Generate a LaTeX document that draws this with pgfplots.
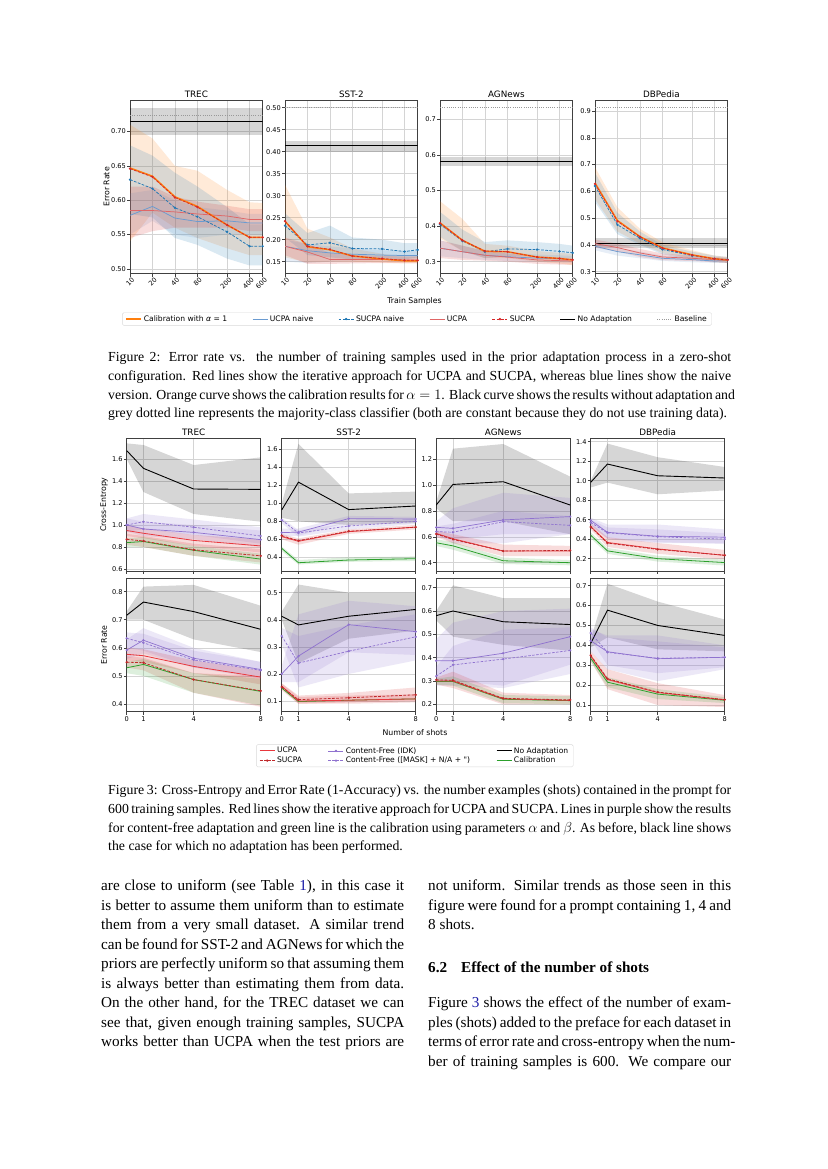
\documentclass[border=0pt]{standalone}
\usepackage{fontspec}
\setmainfont{Liberation Serif}
\newfontfamily\dejavu{DejaVu Sans}
\usepackage{xcolor}
\usepackage{pgfplots}
\pgfplotsset{compat=1.18}

\definecolor{cOrange}{HTML}{FF7F0E}
\definecolor{cBlue}{HTML}{1F77B4}
\definecolor{cLBlue}{HTML}{6A9BD1}
\definecolor{cRed}{HTML}{D62728}
\definecolor{cLRed}{HTML}{E06666}
\definecolor{cRed3}{HTML}{E8383D}
\definecolor{cDRed}{HTML}{C0282A}
\definecolor{cPurple}{HTML}{8F72CF}
\definecolor{cGreen}{HTML}{2CA02C}
\definecolor{linkblue}{HTML}{1A1AA6}

\newcommand\tickfont{\dejavu\fontsize{6.6}{7.5}\selectfont}
\newcommand\labfont{\dejavu\fontsize{7.8}{9}\selectfont}
\newcommand\titlefont{\dejavu\fontsize{8.8}{10}\selectfont}
\newcommand\legfont{\dejavu\fontsize{7.6}{8.6}\selectfont}
\newcommand\captfont{\fontsize{13.8}{17}\selectfont}
\newcommand\bodyfont{\fontsize{15.2}{19}\selectfont}

\pgfplotsset{
  every axis title/.style={at={(axis description cs:0.5,1)}, anchor=base, yshift=2.6pt, font=\titlefont},
  base/.style={scale only axis,
    axis line style={draw=black!75, line width=0.55pt},
    tick style={draw=black!75, line width=0.5pt},
    tick align=outside, tick pos=left, major tick length=2.8pt,
    grid=major, major grid style={draw=black!17, line width=0.45pt},
    tick label style={font=\tickfont},
    /pgf/number format/assume math mode=true,
    yticklabel style={inner sep=1.2pt, /pgf/number format/fixed, /pgf/number format/fixed zerofill},
    label style={font=\labfont},
    legend style={font=\legfont, draw=black!15, rounded corners=1.5pt, inner xsep=3pt, inner ysep=1.5pt,
      nodes={inner ysep=1.2pt}},
    legend cell align=left,
    legend image code/.code={\draw[mark repeat=2,mark phase=2,##1] plot coordinates {(0pt,0pt) (7.5pt,0pt) (15pt,0pt)};},
  },
  f2/.style={base, width=132.7pt, height=173.7pt, xmin=10, xmax=600,
    xtick={10,20,40,80,200,400,600}, xticklabels={10,20,40,80,200,400,600}, xminorticks=false,
    x tick label style={rotate=45, anchor=north east, inner sep=1pt, xshift=2pt}},
  f3/.style={base, width=134pt, xmin=0, xmax=8, xtick={0,1,4,8},
    yticklabel style={/pgf/number format/precision=1}},
  f3top/.style={f3, height=132.7pt, xticklabels={}},
  f3bot/.style={f3, height=133.4pt, xticklabels={0,1,4,8}, x tick label style={inner sep=2pt}},
  band/.style={draw=none, fill=#1, fill opacity=0.16, mark=none, forget plot},
  calibA/.style={color=cOrange, line width=1.5pt, mark=none},
  ucpan/.style={color=cLBlue, line width=0.75pt, mark=none},
  sucpan/.style={color=cBlue, line width=0.75pt, dash pattern=on 2.8pt off 1.4pt, mark=*, mark size=0.75pt, mark options={solid}},
  ucpaA/.style={color=cLRed, line width=0.75pt, mark=none},
  sucpaA/.style={color=cRed, line width=0.75pt, dash pattern=on 2.8pt off 1.4pt, mark=*, mark size=0.75pt, mark options={solid}},
  noad/.style={color=black, line width=0.9pt, mark=none},
  basel/.style={color=black!40, line width=0.5pt, dash pattern=on 1pt off 1.2pt, mark=none},
  ucpa3/.style={color=cRed3, line width=0.8pt, mark=none},
  sucpa3/.style={color=cDRed, line width=0.8pt, dash pattern=on 2.8pt off 1.4pt, mark=*, mark size=0.75pt, mark options={solid}},
  idk/.style={color=cPurple, line width=0.7pt, mark=*, mark size=0.75pt},
  mask/.style={color=cPurple, line width=0.7pt, dash pattern=on 2.5pt off 1.5pt, mark=*, mark size=0.75pt, mark options={solid}},
  calib3/.style={color=cGreen, line width=0.8pt, mark=none},
}

\begin{document}
\begin{tikzpicture}
\path[fill=white, use as bounding box] (0pt,0pt) rectangle (827pt,-1169pt);

% ================= FIGURE 2 =================
% ---- TREC
\begin{semilogxaxis}[f2, at={(130pt,-273.7pt)}, anchor=south west, ymin=0.493, ymax=0.746,
  ytick={0.50,0.55,0.60,0.65,0.70}, yticklabel style={/pgf/number format/precision=2},
  title={TREC}, ylabel={Error Rate}, ylabel style={at={(axis description cs:-0.176,0.5)}, anchor=center},
  legend columns=7, legend style={at={(axis description cs:2.163,-0.261)}, anchor=center,
  /tikz/every even column/.append style={column sep=23pt}}]
\addlegendimage{calibA}\addlegendentry{Calibration with {\itshape α} = 1}
\addlegendimage{ucpan}\addlegendentry{UCPA naive}
\addlegendimage{sucpan}\addlegendentry{SUCPA naive}
\addlegendimage{ucpaA}\addlegendentry{UCPA}
\addlegendimage{sucpaA}\addlegendentry{SUCPA}
\addlegendimage{noad}\addlegendentry{No Adaptation}
\addlegendimage{basel}\addlegendentry{Baseline}
\addplot[band=black] coordinates {(10,0.735)(600,0.735)(600,0.695)(10,0.695)};
\addplot[band=cOrange] coordinates {(10,0.710)(20,0.690)(40,0.650)(80,0.643)(200,0.615)(400,0.597)(600,0.596)(600,0.520)(400,0.520)(200,0.530)(80,0.545)(40,0.560)(20,0.582)(10,0.540)};
\addplot[band=cBlue] coordinates {(10,0.680)(20,0.665)(40,0.640)(80,0.620)(200,0.590)(400,0.565)(600,0.565)(600,0.505)(400,0.505)(200,0.515)(80,0.535)(40,0.545)(20,0.575)(10,0.580)};
\addplot[band=cLBlue] coordinates {(10,0.610)(20,0.615)(40,0.600)(80,0.590)(200,0.585)(400,0.580)(600,0.580)(600,0.550)(400,0.550)(200,0.550)(80,0.545)(40,0.550)(20,0.570)(10,0.550)};
\addplot[band=cRed] coordinates {(10,0.620)(20,0.620)(40,0.605)(80,0.598)(200,0.592)(400,0.587)(600,0.587)(600,0.555)(400,0.555)(200,0.560)(80,0.560)(40,0.560)(20,0.555)(10,0.545)};
\addplot[basel, forget plot] coordinates {(10,0.724)(600,0.724)};
\addplot[noad, forget plot] coordinates {(10,0.715)(600,0.715)};
\addplot[ucpan, forget plot] coordinates {(10,0.578)(20,0.591)(40,0.574)(80,0.569)(200,0.570)(400,0.567)(600,0.567)};
\addplot[ucpaA, forget plot] coordinates {(10,0.585)(20,0.585)(40,0.583)(80,0.580)(200,0.577)(400,0.572)(600,0.572)};
\addplot[sucpan, forget plot] coordinates {(10,0.630)(20,0.617)(40,0.589)(80,0.576)(200,0.554)(400,0.533)(600,0.533)};
\addplot[calibA, forget plot] coordinates {(10,0.647)(20,0.635)(40,0.605)(80,0.591)(200,0.564)(400,0.546)(600,0.546)};
\addplot[sucpaA, forget plot] coordinates {(10,0.646)(20,0.634)(40,0.604)(80,0.590)(200,0.564)(400,0.546)(600,0.546)};
\end{semilogxaxis}

% ---- SST-2
\begin{semilogxaxis}[f2, at={(285pt,-273.7pt)}, anchor=south west, ymin=0.1227, ymax=0.5174,
  ytick={0.15,0.20,0.25,0.30,0.35,0.40,0.45,0.50}, yticklabel style={/pgf/number format/precision=2},
  title={SST-2}]
\addplot[band=black] coordinates {(10,0.425)(600,0.425)(600,0.400)(10,0.400)};
\addplot[band=cOrange] coordinates {(10,0.325)(20,0.225)(40,0.205)(80,0.180)(200,0.168)(400,0.162)(600,0.162)(600,0.146)(400,0.146)(200,0.148)(80,0.150)(40,0.150)(20,0.148)(10,0.160)};
\addplot[band=cBlue] coordinates {(10,0.260)(20,0.215)(40,0.232)(80,0.205)(200,0.200)(400,0.192)(600,0.192)(600,0.160)(400,0.155)(200,0.157)(80,0.155)(40,0.160)(20,0.165)(10,0.205)};
\addplot[band=cLBlue] coordinates {(10,0.200)(20,0.190)(40,0.185)(80,0.180)(200,0.176)(400,0.175)(600,0.175)(600,0.153)(400,0.153)(200,0.153)(80,0.152)(40,0.150)(20,0.147)(10,0.150)};
\addplot[band=cRed] coordinates {(10,0.205)(20,0.190)(40,0.170)(80,0.165)(200,0.163)(400,0.162)(600,0.162)(600,0.147)(400,0.147)(200,0.147)(80,0.146)(40,0.145)(20,0.145)(10,0.165)};
\addplot[basel, forget plot] coordinates {(10,0.500)(600,0.500)};
\addplot[noad, forget plot] coordinates {(10,0.414)(600,0.414)};
\addplot[ucpan, forget plot] coordinates {(10,0.185)(20,0.175)(40,0.170)(80,0.167)(200,0.165)(400,0.164)(600,0.164)};
\addplot[ucpaA, forget plot] coordinates {(10,0.185)(20,0.172)(40,0.155)(80,0.155)(200,0.155)(400,0.154)(600,0.154)};
\addplot[sucpan, forget plot] coordinates {(10,0.232)(20,0.188)(40,0.193)(80,0.180)(200,0.179)(400,0.173)(600,0.177)};
\addplot[calibA, forget plot] coordinates {(10,0.242)(20,0.184)(40,0.177)(80,0.163)(200,0.156)(400,0.152)(600,0.152)};
\addplot[sucpaA, forget plot] coordinates {(10,0.242)(20,0.185)(40,0.178)(80,0.163)(200,0.157)(400,0.153)(600,0.153)};
\end{semilogxaxis}

% ---- AGNews
\begin{semilogxaxis}[f2, at={(440pt,-273.7pt)}, anchor=south west, ymin=0.2663, ymax=0.754,
  ytick={0.3,0.4,0.5,0.6,0.7}, yticklabel style={/pgf/number format/precision=1},
  title={AGNews}]
\addplot[band=black] coordinates {(10,0.595)(600,0.595)(600,0.570)(10,0.570)};
\addplot[band=cOrange] coordinates {(10,0.470)(20,0.420)(40,0.350)(80,0.345)(200,0.330)(400,0.325)(600,0.322)(600,0.290)(400,0.295)(200,0.300)(80,0.310)(40,0.310)(20,0.330)(10,0.365)};
\addplot[band=cBlue] coordinates {(10,0.440)(20,0.390)(40,0.355)(80,0.360)(200,0.355)(400,0.350)(600,0.345)(600,0.310)(400,0.310)(200,0.315)(80,0.315)(40,0.310)(20,0.330)(10,0.370)};
\addplot[band=cLBlue] coordinates {(10,0.360)(20,0.345)(40,0.330)(80,0.325)(200,0.320)(400,0.318)(600,0.316)(600,0.297)(400,0.298)(200,0.300)(80,0.302)(40,0.305)(20,0.310)(10,0.315)};
\addplot[band=cRed] coordinates {(10,0.360)(20,0.345)(40,0.330)(80,0.323)(200,0.315)(400,0.312)(600,0.310)(600,0.292)(400,0.292)(200,0.294)(80,0.300)(40,0.303)(20,0.305)(10,0.310)};
\addplot[basel, forget plot] coordinates {(10,0.733)(600,0.733)};
\addplot[noad, forget plot] coordinates {(10,0.581)(600,0.581)};
\addplot[ucpan, forget plot] coordinates {(10,0.338)(20,0.328)(40,0.318)(80,0.314)(200,0.310)(400,0.308)(600,0.306)};
\addplot[ucpaA, forget plot] coordinates {(10,0.338)(20,0.328)(40,0.318)(80,0.313)(200,0.305)(400,0.303)(600,0.302)};
\addplot[sucpan, forget plot] coordinates {(10,0.405)(20,0.358)(40,0.328)(80,0.336)(200,0.334)(400,0.329)(600,0.325)};
\addplot[calibA, forget plot] coordinates {(10,0.409)(20,0.360)(40,0.329)(80,0.328)(200,0.313)(400,0.309)(600,0.305)};
\addplot[sucpaA, forget plot] coordinates {(10,0.408)(20,0.360)(40,0.330)(80,0.328)(200,0.313)(400,0.309)(600,0.305)};
\end{semilogxaxis}

% ---- DBPedia
\begin{semilogxaxis}[f2, at={(595pt,-273.7pt)}, anchor=south west, ymin=0.2925, ymax=0.941,
  ytick={0.3,0.4,0.5,0.6,0.7,0.8,0.9}, yticklabel style={/pgf/number format/precision=1},
  title={DBPedia}]
\addplot[band=black] coordinates {(10,0.425)(600,0.425)(600,0.390)(10,0.390)};
\addplot[band=cOrange] coordinates {(10,0.690)(20,0.540)(40,0.460)(80,0.410)(200,0.380)(400,0.360)(600,0.355)(600,0.333)(400,0.338)(200,0.350)(80,0.370)(40,0.405)(20,0.450)(10,0.570)};
\addplot[band=cBlue] coordinates {(10,0.670)(20,0.520)(40,0.450)(80,0.400)(200,0.375)(400,0.360)(600,0.355)(600,0.333)(400,0.335)(200,0.345)(80,0.365)(40,0.400)(20,0.440)(10,0.560)};
\addplot[band=cLBlue] coordinates {(10,0.410)(20,0.390)(40,0.375)(80,0.360)(200,0.355)(400,0.350)(600,0.350)(600,0.333)(400,0.333)(200,0.335)(80,0.340)(40,0.350)(20,0.360)(10,0.380)};
\addplot[band=cRed] coordinates {(10,0.420)(20,0.405)(40,0.385)(80,0.368)(200,0.360)(400,0.355)(600,0.352)(600,0.333)(400,0.335)(200,0.340)(80,0.343)(40,0.355)(20,0.375)(10,0.390)};
\addplot[basel, forget plot] coordinates {(10,0.915)(600,0.915)};
\addplot[noad, forget plot] coordinates {(10,0.407)(600,0.407)};
\addplot[ucpan, forget plot] coordinates {(10,0.395)(20,0.375)(40,0.363)(80,0.350)(200,0.345)(400,0.340)(600,0.342)};
\addplot[ucpaA, forget plot] coordinates {(10,0.405)(20,0.390)(40,0.370)(80,0.355)(200,0.350)(400,0.345)(600,0.342)};
\addplot[sucpan, forget plot] coordinates {(10,0.620)(20,0.475)(40,0.425)(80,0.383)(200,0.360)(400,0.348)(600,0.345)};
\addplot[calibA, forget plot] coordinates {(10,0.631)(20,0.491)(40,0.431)(80,0.389)(200,0.363)(400,0.348)(600,0.344)};
\addplot[sucpaA, forget plot] coordinates {(10,0.628)(20,0.488)(40,0.430)(80,0.388)(200,0.362)(400,0.348)(600,0.344)};
\end{semilogxaxis}

\node[font=\labfont, anchor=center] at (414.5pt,-301pt) {Train Samples};

% ================= FIGURE 3 (top row: cross-entropy) =================
% ---- TREC CE
\begin{axis}[f3top, at={(126.7pt,-571pt)}, anchor=south west, ymin=0.582, ymax=1.788,
  ytick={0.6,0.8,1.0,1.2,1.4,1.6}, title={TREC}, ylabel={Cross-Entropy},
  ylabel style={at={(axis description cs:-0.169,0.5)}, anchor=center}]
\addplot[band=black] coordinates {(0,1.742)(1,1.727)(4,1.545)(8,1.615)(8,1.030)(4,1.100)(1,1.300)(0,1.600)};
\addplot[band=cPurple] coordinates {(0,1.06)(1,1.03)(4,1.00)(8,0.95)(8,0.80)(4,0.87)(1,0.90)(0,0.94)};
\addplot[band=cPurple] coordinates {(0,1.06)(1,1.10)(4,1.05)(8,0.98)(8,0.83)(4,0.91)(1,0.96)(0,0.94)};
\addplot[band=cRed] coordinates {(0,1.00)(1,0.97)(4,0.91)(8,0.87)(8,0.75)(4,0.81)(1,0.88)(0,0.90)};
\addplot[band=cRed] coordinates {(0,0.92)(1,0.90)(4,0.83)(8,0.78)(8,0.66)(4,0.72)(1,0.80)(0,0.82)};
\addplot[band=cGreen] coordinates {(0,0.88)(1,0.89)(4,0.81)(8,0.74)(8,0.64)(4,0.72)(1,0.80)(0,0.80)};
\addplot[noad, forget plot] coordinates {(0,1.676)(1,1.515)(4,1.327)(8,1.324)};
\addplot[idk, forget plot] coordinates {(0,1.000)(1,0.964)(4,0.933)(8,0.867)};
\addplot[mask, forget plot] coordinates {(0,1.000)(1,1.030)(4,0.980)(8,0.900)};
\addplot[ucpa3, forget plot] coordinates {(0,0.950)(1,0.925)(4,0.860)(8,0.810)};
\addplot[calib3, forget plot] coordinates {(0,0.840)(1,0.850)(4,0.770)(8,0.690)};
\addplot[sucpa3, forget plot] coordinates {(0,0.870)(1,0.855)(4,0.775)(8,0.720)};
\end{axis}

% ---- SST-2 CE
\begin{axis}[f3top, at={(281.7pt,-571pt)}, anchor=south west, ymin=0.248, ymax=1.722,
  ytick={0.4,0.6,0.8,1.0,1.2,1.4,1.6}, title={SST-2}]
\addplot[band=black] coordinates {(0,1.00)(1,1.66)(4,1.11)(8,1.13)(8,0.78)(4,0.76)(1,0.80)(0,0.84)};
\addplot[band=cPurple] coordinates {(0,0.72)(1,0.72)(4,0.86)(8,0.85)(8,0.80)(4,0.79)(1,0.64)(0,0.63)};
\addplot[band=cPurple] coordinates {(0,0.84)(1,0.70)(4,0.78)(8,0.83)(8,0.77)(4,0.71)(1,0.63)(0,0.78)};
\addplot[band=cRed] coordinates {(0,0.66)(1,0.61)(4,0.71)(8,0.76)(8,0.71)(4,0.66)(1,0.54)(0,0.60)};
\addplot[band=cGreen] coordinates {(0,0.52)(1,0.37)(4,0.40)(8,0.41)(8,0.36)(4,0.35)(1,0.32)(0,0.47)};
\addplot[noad, forget plot] coordinates {(0,0.926)(1,1.235)(4,0.930)(8,0.970)};
\addplot[idk, forget plot] coordinates {(0,0.674)(1,0.680)(4,0.830)(8,0.826)};
\addplot[mask, forget plot] coordinates {(0,0.815)(1,0.670)(4,0.748)(8,0.800)};
\addplot[ucpa3, forget plot] coordinates {(0,0.630)(1,0.578)(4,0.685)(8,0.735)};
\addplot[sucpa3, forget plot] coordinates {(0,0.640)(1,0.585)(4,0.690)(8,0.735)};
\addplot[calib3, forget plot] coordinates {(0,0.500)(1,0.340)(4,0.370)(8,0.385)};
\end{axis}

% ---- AGNews CE
\begin{axis}[f3top, at={(436.2pt,-571pt)}, anchor=south west, ymin=0.336, ymax=1.36,
  ytick={0.4,0.6,0.8,1.0,1.2}, title={AGNews}]
\addplot[band=black] coordinates {(0,0.87)(1,1.28)(4,1.316)(8,1.064)(8,0.62)(4,0.72)(1,0.72)(0,0.82)};
\addplot[band=cPurple] coordinates {(0,0.72)(1,0.82)(4,0.94)(8,0.90)(8,0.62)(4,0.55)(1,0.55)(0,0.62)};
\addplot[band=cPurple] coordinates {(0,0.68)(1,0.70)(4,0.80)(8,0.76)(8,0.62)(4,0.62)(1,0.58)(0,0.60)};
\addplot[band=cRed] coordinates {(0,0.65)(1,0.62)(4,0.54)(8,0.53)(8,0.45)(4,0.45)(1,0.55)(0,0.60)};
\addplot[band=cGreen] coordinates {(0,0.58)(1,0.56)(4,0.44)(8,0.42)(8,0.38)(4,0.39)(1,0.50)(0,0.53)};
\addplot[noad, forget plot] coordinates {(0,0.845)(1,1.004)(4,1.025)(8,0.845)};
\addplot[idk, forget plot] coordinates {(0,0.673)(1,0.665)(4,0.730)(8,0.756)};
\addplot[mask, forget plot] coordinates {(0,0.640)(1,0.635)(4,0.717)(8,0.688)};
\addplot[ucpa3, forget plot] coordinates {(0,0.626)(1,0.585)(4,0.490)(8,0.490)};
\addplot[sucpa3, forget plot] coordinates {(0,0.622)(1,0.580)(4,0.490)(8,0.495)};
\addplot[calib3, forget plot] coordinates {(0,0.554)(1,0.530)(4,0.415)(8,0.400)};
\end{axis}

% ---- DBPedia CE
\begin{axis}[f3top, at={(590.7pt,-571pt)}, anchor=south west, ymin=0.0735, ymax=1.434,
  ytick={0.2,0.4,0.6,0.8,1.0,1.2,1.4}, title={DBPedia}]
\addplot[band=black] coordinates {(0,1.00)(1,1.38)(4,1.24)(8,1.14)(8,0.90)(4,0.86)(1,0.98)(0,0.93)};
\addplot[band=cPurple] coordinates {(0,0.62)(1,0.55)(4,0.55)(8,0.50)(8,0.36)(4,0.36)(1,0.40)(0,0.55)};
\addplot[band=cPurple] coordinates {(0,0.60)(1,0.52)(4,0.50)(8,0.46)(8,0.35)(4,0.37)(1,0.41)(0,0.53)};
\addplot[band=cRed] coordinates {(0,0.56)(1,0.42)(4,0.36)(8,0.29)(8,0.19)(4,0.25)(1,0.32)(0,0.50)};
\addplot[band=cGreen] coordinates {(0,0.47)(1,0.31)(4,0.23)(8,0.19)(8,0.13)(4,0.17)(1,0.25)(0,0.41)};
\addplot[noad, forget plot] coordinates {(0,0.983)(1,1.170)(4,1.050)(8,1.027)};
\addplot[idk, forget plot] coordinates {(0,0.593)(1,0.470)(4,0.430)(8,0.420)};
\addplot[mask, forget plot] coordinates {(0,0.570)(1,0.465)(4,0.425)(8,0.400)};
\addplot[ucpa3, forget plot] coordinates {(0,0.530)(1,0.366)(4,0.300)(8,0.234)};
\addplot[sucpa3, forget plot] coordinates {(0,0.525)(1,0.360)(4,0.295)(8,0.235)};
\addplot[calib3, forget plot] coordinates {(0,0.440)(1,0.280)(4,0.200)(8,0.160)};
\end{axis}

% ================= FIGURE 3 (bottom row: error rate) =================
% ---- TREC ER
\begin{axis}[f3bot, at={(126.7pt,-711.7pt)}, anchor=south west, ymin=0.3727, ymax=0.8475,
  ytick={0.4,0.5,0.6,0.7,0.8}, ylabel={Error Rate},
  ylabel style={at={(axis description cs:-0.169,0.5)}, anchor=center},
  legend columns=3, legend style={at={(axis description cs:2.150,-0.33)}, anchor=center,
  /tikz/every even column/.append style={column sep=24pt}}]
\addlegendimage{ucpa3}\addlegendentry{UCPA}
\addlegendimage{idk}\addlegendentry{Content-Free (IDK)}
\addlegendimage{noad}\addlegendentry{No Adaptation}
\addlegendimage{sucpa3}\addlegendentry{SUCPA}
\addlegendimage{mask}\addlegendentry{Content-Free ([MASK] + N/A + ")}
\addlegendimage{calib3}\addlegendentry{Calibration}
\addplot[band=black] coordinates {(0,0.73)(1,0.818)(4,0.824)(8,0.75)(8,0.585)(4,0.63)(1,0.70)(0,0.70)};
\addplot[band=cPurple] coordinates {(0,0.63)(1,0.67)(4,0.60)(8,0.55)(8,0.50)(4,0.53)(1,0.58)(0,0.56)};
\addplot[band=cPurple] coordinates {(0,0.655)(1,0.65)(4,0.59)(8,0.55)(8,0.49)(4,0.53)(1,0.59)(0,0.60)};
\addplot[band=cRed] coordinates {(0,0.60)(1,0.595)(4,0.555)(8,0.52)(8,0.47)(4,0.51)(1,0.55)(0,0.555)};
\addplot[band=cRed] coordinates {(0,0.57)(1,0.565)(4,0.51)(8,0.50)(8,0.39)(4,0.44)(1,0.52)(0,0.53)};
\addplot[band=cGreen] coordinates {(0,0.55)(1,0.56)(4,0.51)(8,0.49)(8,0.395)(4,0.44)(1,0.50)(0,0.51)};
\addplot[noad, forget plot] coordinates {(0,0.716)(1,0.763)(4,0.729)(8,0.666)};
\addplot[idk, forget plot] coordinates {(0,0.592)(1,0.627)(4,0.563)(8,0.523)};
\addplot[mask, forget plot] coordinates {(0,0.634)(1,0.618)(4,0.557)(8,0.520)};
\addplot[ucpa3, forget plot] coordinates {(0,0.577)(1,0.572)(4,0.534)(8,0.496)};
\addplot[calib3, forget plot] coordinates {(0,0.529)(1,0.541)(4,0.487)(8,0.445)};
\addplot[sucpa3, forget plot] coordinates {(0,0.549)(1,0.547)(4,0.487)(8,0.447)};
\end{axis}

% ---- SST-2 ER
\begin{axis}[f3bot, at={(281.7pt,-711.7pt)}, anchor=south west, ymin=0.0606, ymax=0.553,
  ytick={0.1,0.2,0.3,0.4,0.5}]
\addplot[band=black] coordinates {(0,0.43)(1,0.53)(4,0.50)(8,0.50)(8,0.36)(4,0.33)(1,0.24)(0,0.40)};
\addplot[band=cPurple] coordinates {(0,0.23)(1,0.42)(4,0.47)(8,0.45)(8,0.27)(4,0.28)(1,0.17)(0,0.17)};
\addplot[band=cPurple] coordinates {(0,0.37)(1,0.34)(4,0.38)(8,0.42)(8,0.25)(4,0.20)(1,0.15)(0,0.31)};
\addplot[band=cRed] coordinates {(0,0.165)(1,0.115)(4,0.12)(8,0.125)(8,0.095)(4,0.09)(1,0.09)(0,0.145)};
\addplot[band=cRed] coordinates {(0,0.165)(1,0.12)(4,0.13)(8,0.15)(8,0.10)(4,0.095)(1,0.09)(0,0.14)};
\addplot[noad, forget plot] coordinates {(0,0.413)(1,0.381)(4,0.413)(8,0.438)};
\addplot[idk, forget plot] coordinates {(0,0.200)(1,0.266)(4,0.382)(8,0.356)};
\addplot[mask, forget plot] coordinates {(0,0.340)(1,0.240)(4,0.284)(8,0.337)};
\addplot[calib3, forget plot] coordinates {(0,0.148)(1,0.098)(4,0.103)(8,0.108)};
\addplot[ucpa3, forget plot] coordinates {(0,0.155)(1,0.100)(4,0.103)(8,0.108)};
\addplot[sucpa3, forget plot] coordinates {(0,0.152)(1,0.105)(4,0.112)(8,0.123)};
\end{axis}

% ---- AGNews ER
\begin{axis}[f3bot, at={(436.2pt,-711.7pt)}, anchor=south west, ymin=0.1686, ymax=0.74,
  ytick={0.2,0.3,0.4,0.5,0.6,0.7}]
\addplot[band=black] coordinates {(0,0.60)(1,0.71)(4,0.655)(8,0.655)(8,0.43)(4,0.455)(1,0.49)(0,0.56)};
\addplot[band=cPurple] coordinates {(0,0.48)(1,0.55)(4,0.60)(8,0.61)(8,0.37)(4,0.28)(1,0.30)(0,0.30)};
\addplot[band=cPurple] coordinates {(0,0.36)(1,0.45)(4,0.52)(8,0.53)(8,0.33)(4,0.27)(1,0.28)(0,0.28)};
\addplot[band=cRed] coordinates {(0,0.315)(1,0.34)(4,0.25)(8,0.24)(8,0.20)(4,0.20)(1,0.27)(0,0.285)};
\addplot[band=cGreen] coordinates {(0,0.31)(1,0.32)(4,0.24)(8,0.235)(8,0.20)(4,0.205)(1,0.28)(0,0.285)};
\addplot[noad, forget plot] coordinates {(0,0.580)(1,0.600)(4,0.554)(8,0.542)};
\addplot[idk, forget plot] coordinates {(0,0.387)(1,0.387)(4,0.419)(8,0.490)};
\addplot[mask, forget plot] coordinates {(0,0.321)(1,0.369)(4,0.394)(8,0.431)};
\addplot[calib3, forget plot] coordinates {(0,0.298)(1,0.298)(4,0.222)(8,0.216)};
\addplot[ucpa3, forget plot] coordinates {(0,0.300)(1,0.300)(4,0.224)(8,0.217)};
\addplot[sucpa3, forget plot] coordinates {(0,0.305)(1,0.303)(4,0.226)(8,0.219)};
\end{axis}

% ---- DBPedia ER
\begin{axis}[f3bot, at={(590.7pt,-711.7pt)}, anchor=south west, ymin=0.0665, ymax=0.737,
  ytick={0.1,0.2,0.3,0.4,0.5,0.6,0.7}]
\addplot[band=black] coordinates {(0,0.43)(1,0.71)(4,0.62)(8,0.53)(8,0.37)(4,0.38)(1,0.44)(0,0.39)};
\addplot[band=cPurple] coordinates {(0,0.48)(1,0.45)(4,0.45)(8,0.40)(8,0.28)(4,0.22)(1,0.28)(0,0.37)};
\addplot[band=cPurple] coordinates {(0,0.49)(1,0.44)(4,0.42)(8,0.39)(8,0.29)(4,0.26)(1,0.30)(0,0.43)};
\addplot[band=cRed] coordinates {(0,0.37)(1,0.28)(4,0.21)(8,0.15)(8,0.09)(4,0.10)(1,0.18)(0,0.32)};
\addplot[band=cGreen] coordinates {(0,0.35)(1,0.24)(4,0.18)(8,0.14)(8,0.11)(4,0.13)(1,0.19)(0,0.32)};
\addplot[noad, forget plot] coordinates {(0,0.410)(1,0.577)(4,0.500)(8,0.450)};
\addplot[idk, forget plot] coordinates {(0,0.423)(1,0.368)(4,0.333)(8,0.340)};
\addplot[mask, forget plot] coordinates {(0,0.462)(1,0.365)(4,0.335)(8,0.340)};
\addplot[calib3, forget plot] coordinates {(0,0.335)(1,0.215)(4,0.155)(8,0.124)};
\addplot[ucpa3, forget plot] coordinates {(0,0.346)(1,0.228)(4,0.163)(8,0.126)};
\addplot[sucpa3, forget plot] coordinates {(0,0.350)(1,0.232)(4,0.165)(8,0.127)};
\end{axis}

\node[font=\labfont, anchor=center] at (415pt,-732.5pt) {Number of shots};

% ================= CAPTIONS =================
\begin{scope}[every node/.style={anchor=base west, inner sep=0pt, font=\captfont}]
\node at (108pt,-361.5pt) {\makebox[623pt][s]{Figure 2: Error rate vs.\ \ the number of training samples used in the prior adaptation process in a zero-shot}};
\node at (108pt,-380.3pt) {\makebox[623pt][s]{configuration. Red lines show the iterative approach for UCPA and SUCPA, whereas blue lines show the naive}};
\node at (108pt,-399.1pt) {\makebox[623pt][s]{version. Orange curve shows the calibration results for $\alpha=1$. Black curve shows the results without adaptation and}};
\node at (108pt,-417.9pt) {grey dotted line represents the majority-class classifier (both are constant because they do not use training data).};

\node at (108pt,-794.5pt) {\makebox[623pt][s]{Figure 3: Cross-Entropy and Error Rate (1-Accuracy) vs. the number examples (shots) contained in the prompt for}};
\node at (108pt,-813.3pt) {\makebox[623pt][s]{600 training samples. Red lines show the iterative approach for UCPA and SUCPA. Lines in purple show the results}};
\node at (108pt,-832.1pt) {\makebox[623pt][s]{for content-free adaptation and green line is the calibration using parameters $\alpha$ and $\beta$. As before, black line shows}};
\node at (108pt,-850.9pt) {the case for which no adaptation has been performed.};
\end{scope}

% ================= BODY TEXT =================
\begin{scope}[every node/.style={anchor=base west, inner sep=0pt, font=\bodyfont}]
\node at (101pt,-890.5pt) {\makebox[303pt][s]{are close to uniform (see Table \textcolor{linkblue}{1}), in this case it}};
\node at (101pt,-910pt) {\makebox[303pt][s]{is better to assume them uniform than to estimate}};
\node at (101pt,-929.5pt) {\makebox[303pt][s]{them from a very small dataset. A similar trend}};
\node at (101pt,-949pt) {\makebox[303pt][s]{can be found for SST-2 and AGNews for which the}};
\node at (101pt,-968.5pt) {\makebox[303pt][s]{priors are perfectly uniform so that assuming them}};
\node at (101pt,-988pt) {\makebox[303pt][s]{is always better than estimating them from data.}};
\node at (101pt,-1007.5pt) {\makebox[303pt][s]{On the other hand, for the TREC dataset we can}};
\node at (101pt,-1027pt) {\makebox[303pt][s]{see that, given enough training samples, SUCPA}};
\node at (101pt,-1046.5pt) {\makebox[303pt][s]{works better than UCPA when the test priors are}};

\node at (428pt,-890.5pt) {\makebox[303pt][s]{not uniform. Similar trends as those seen in this}};
\node at (428pt,-910pt) {\makebox[303pt][s]{figure were found for a prompt containing 1, 4 and}};
\node at (428pt,-929.5pt) {8 shots.};
\node[font=\bodyfont\bfseries] at (428pt,-972.5pt) {6.2};
\node[font=\bodyfont\bfseries] at (461pt,-972.5pt) {Effect of the number of shots};
\node at (428pt,-1007.5pt) {\makebox[303pt][s]{Figure \textcolor{linkblue}{3} shows the effect of the number of exam-}};
\node at (428pt,-1027pt) {\makebox[303pt][s]{ples (shots) added to the preface for each dataset in}};
\node at (428pt,-1046.5pt) {\makebox[303pt][s]{terms of error rate and cross-entropy when the num-}};
\node at (428pt,-1066pt) {\makebox[303pt][s]{ber of training samples is 600. We compare our}};
\end{scope}
\end{tikzpicture}
\end{document}
